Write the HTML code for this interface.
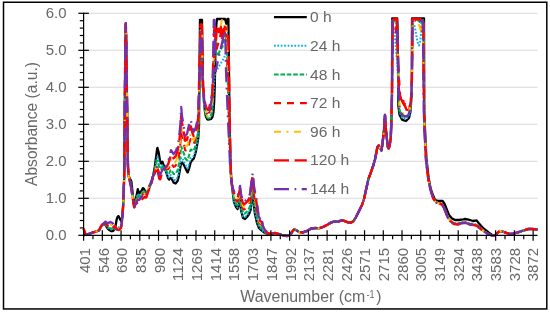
<!DOCTYPE html>
<html lang="en"><head><meta charset="utf-8"><title>Absorbance vs Wavenumber</title>
<style>html,body{margin:0;padding:0;background:#fff}body{width:550px;height:312px;overflow:hidden}svg{display:block}text{font-family:"Liberation Sans",sans-serif;fill:#686868}</style></head><body>
<svg width="550" height="312" viewBox="0 0 550 312">
<rect x="0" y="0" width="550" height="312" fill="#fff"/>
<line x1="83.6" y1="198.30" x2="537.5" y2="198.30" stroke="#d9d9d9" stroke-width="1.1"/>
<line x1="83.6" y1="161.30" x2="537.5" y2="161.30" stroke="#d9d9d9" stroke-width="1.1"/>
<line x1="83.6" y1="124.30" x2="537.5" y2="124.30" stroke="#d9d9d9" stroke-width="1.1"/>
<line x1="83.6" y1="87.30" x2="537.5" y2="87.30" stroke="#d9d9d9" stroke-width="1.1"/>
<line x1="83.6" y1="50.30" x2="537.5" y2="50.30" stroke="#d9d9d9" stroke-width="1.1"/>
<line x1="83.6" y1="13.30" x2="537.5" y2="13.30" stroke="#d9d9d9" stroke-width="1.1"/>
<g fill="none" stroke-linejoin="round" stroke-linecap="butt">
<path d="M83.6 235.0 L85.6 234.9 L87.0 234.8 L89.0 233.9 L91.0 233.2 L93.0 232.5 L95.0 231.8 L97.0 231.2 L99.0 230.5 L101.0 226.5 L102.0 225.0 L104.0 223.8 L104.4 223.6 L104.6 223.7 L106.6 227.0 L108.6 229.6 L110.6 230.9 L111.0 231.2 L113.0 231.0 L114.4 229.6 L115.4 226.8 L116.6 219.7 L117.6 216.9 L118.4 216.1 L118.6 216.2 L120.6 220.2 L121.2 221.3 L121.4 221.0 L122.2 217.0 L123.0 208.0 L123.6 195.0 L124.2 176.0 L125.4 40.0 L125.8 23.5 L126.2 40.0 L127.8 158.8 L128.0 166.8 L128.4 174.2 L128.6 176.0 L130.8 180.3 L131.4 181.5 L133.4 200.3 L134.2 207.2 L136.4 196.1 L137.8 189.2 L139.0 193.4 L139.2 193.6 L141.2 191.2 L142.8 188.2 L143.0 188.1 L144.2 189.2 L145.4 192.2 L145.6 192.4 L147.0 193.0 L149.2 188.1 L151.2 182.8 L152.8 177.7 L154.8 166.7 L156.8 151.3 L157.2 148.3 L157.4 147.9 L158.6 152.0 L160.0 160.6 L161.2 163.6 L162.4 161.7 L164.4 167.3 L166.4 172.7 L168.0 178.0 L169.2 179.6 L170.4 177.8 L170.6 177.8 L171.8 179.0 L173.6 182.6 L173.8 182.8 L175.6 183.5 L177.6 180.9 L178.8 176.4 L180.8 164.6 L181.0 163.6 L182.2 162.5 L182.4 162.6 L184.4 166.0 L186.4 170.3 L187.6 172.4 L187.8 172.3 L189.4 167.5 L190.6 162.4 L192.6 159.8 L193.8 158.5 L195.8 152.0 L198.0 139.8 L198.2 138.6 L199.0 126.0 L200.0 20.0 L202.0 20.0 L203.0 86.0 L204.0 102.0 L205.0 112.0 L206.0 117.0 L207.4 119.3 L207.6 119.5 L209.6 119.3 L211.0 119.0 L212.4 117.1 L213.4 112.5 L214.2 101.5 L214.8 85.0 L215.6 39.0 L216.4 24.1 L217.0 19.0 L219.2 19.0 L221.2 19.0 L223.2 19.0 L225.0 19.0 L226.4 23.7 L226.6 23.4 L227.2 19.6 L227.4 19.0 L228.4 19.0 L229.4 112.0 L230.6 165.0 L231.4 180.9 L233.6 199.2 L234.0 202.0 L236.0 207.0 L237.6 209.0 L239.6 201.6 L240.0 200.0 L241.0 210.0 L243.0 218.0 L245.0 219.0 L247.0 217.0 L249.0 214.0 L250.6 210.0 L252.8 190.0 L253.0 188.0 L254.0 206.0 L255.0 214.0 L257.0 223.0 L259.0 228.0 L261.2 230.2 L263.4 231.9 L265.6 233.2 L267.6 233.9 L269.8 234.0 L272.0 233.7 L274.0 233.2 L275.0 233.0 L277.2 233.6 L279.4 234.1 L281.6 234.9 L283.6 235.5 L285.8 235.8 L287.0 236.0 L289.0 235.3 L290.0 235.0 L292.2 231.8 L294.0 229.6 L296.0 230.0 L298.0 231.3 L299.0 232.0 L301.2 232.2 L303.0 232.4 L305.0 231.7 L307.2 230.9 L309.2 229.7 L311.0 228.6 L313.0 228.3 L315.2 228.0 L317.2 228.2 L319.0 228.4 L321.0 227.7 L323.2 226.9 L325.2 225.9 L327.4 224.8 L329.6 223.4 L331.6 222.4 L333.8 221.7 L336.0 221.6 L338.0 221.6 L340.2 220.9 L342.0 220.4 L344.0 220.8 L346.2 221.6 L348.0 222.4 L350.2 222.5 L351.0 222.6 L353.0 221.4 L353.6 221.0 L355.8 217.3 L357.8 213.4 L360.0 209.0 L362.0 205.0 L364.0 199.0 L366.2 189.0 L368.4 179.0 L370.6 173.1 L372.8 167.0 L375.0 159.5 L377.0 149.1 L377.6 146.7 L378.8 145.4 L380.8 149.3 L381.4 150.5 L382.4 144.4 L384.0 130.0 L385.0 115.0 L386.0 131.0 L387.8 146.7 L388.6 148.4 L388.8 148.3 L389.6 145.7 L390.8 137.7 L391.8 106.0 L392.0 90.0 L392.2 18.5 L394.4 18.5 L396.6 18.5 L397.2 18.5 L397.4 24.4 L398.0 60.0 L398.4 106.0 L399.6 115.0 L401.6 118.8 L402.0 119.6 L404.2 120.4 L406.0 121.0 L408.0 119.0 L409.0 118.0 L410.4 112.0 L411.8 91.7 L412.0 18.5 L414.2 18.5 L416.4 18.5 L418.6 18.5 L420.8 18.5 L423.0 18.5 L424.0 18.5 L424.2 112.9 L426.4 158.4 L428.6 177.9 L430.6 188.3 L432.8 194.8 L435.0 200.0 L437.2 200.6 L439.4 201.0 L441.6 201.0 L442.6 201.0 L444.6 204.0 L446.8 209.5 L449.0 215.0 L451.2 217.5 L452.0 218.4 L454.2 219.6 L455.0 220.0 L457.0 220.0 L459.2 220.0 L461.4 219.6 L463.4 219.3 L465.0 219.0 L467.2 219.4 L469.4 219.9 L471.4 220.5 L473.0 221.0 L475.2 220.6 L476.6 220.4 L478.8 223.2 L481.0 225.8 L483.2 228.0 L485.4 229.9 L487.4 231.5 L489.6 233.3 L491.8 234.7 L493.0 235.4 L495.0 235.4 L497.0 233.4 L499.2 231.6 L500.0 231.0 L502.2 231.6 L504.4 232.2 L506.6 233.0 L508.8 233.7 L511.0 233.9 L513.0 233.7 L515.2 233.2 L517.4 232.5 L519.4 231.8 L521.6 231.1 L523.8 230.5 L525.8 229.8 L528.0 229.0 L530.2 229.0 L532.2 229.0 L534.4 229.2 L536.6 229.5 L537.4 229.6" stroke="#000000" stroke-width="2.3"/>
<path d="M83.6 235.0 L85.6 234.9 L87.0 234.8 L89.0 233.9 L91.0 233.2 L93.0 232.5 L95.0 231.8 L97.0 231.2 L99.0 230.5 L101.0 226.5 L102.0 225.0 L104.0 223.6 L104.4 223.4 L104.6 223.4 L106.6 226.1 L107.6 227.6 L109.6 228.7 L111.0 229.4 L113.0 229.5 L114.4 228.8 L114.6 226.6 L115.6 227.1 L116.6 227.1 L117.0 227.4 L118.4 227.1 L119.0 227.4 L121.0 226.6 L122.0 220.4 L123.0 208.0 L123.6 195.0 L124.2 176.0 L125.4 40.0 L125.8 23.5 L126.2 40.0 L127.8 158.8 L128.0 166.8 L128.4 174.2 L128.6 176.2 L130.8 182.6 L131.4 185.1 L133.4 201.2 L134.2 207.2 L136.4 198.8 L137.8 193.8 L139.0 196.3 L139.2 196.4 L141.2 194.0 L142.8 191.4 L143.0 191.2 L144.2 191.4 L145.6 193.2 L146.2 193.5 L147.0 192.5 L149.2 187.1 L151.2 182.4 L153.2 175.7 L154.8 169.5 L156.8 158.4 L157.2 157.4 L157.4 157.5 L158.6 161.6 L159.2 164.6 L160.0 166.8 L161.2 167.6 L162.4 165.4 L164.2 167.8 L164.4 167.5 L166.4 172.0 L168.0 176.4 L169.2 177.4 L170.4 175.3 L170.6 175.2 L171.0 175.4 L171.8 176.2 L173.6 179.7 L173.8 179.9 L175.6 180.3 L177.6 177.3 L178.8 172.7 L180.8 159.7 L181.0 158.4 L181.2 157.8 L182.0 158.0 L182.2 158.0 L182.4 158.2 L184.4 162.4 L186.4 166.8 L187.6 168.3 L187.8 168.1 L190.0 160.6 L190.6 158.2 L192.6 156.7 L193.6 156.0 L193.8 155.8 L195.8 149.5 L198.0 137.4 L198.2 136.2 L198.4 133.8 L200.2 50.0 L200.8 40.6 L201.0 40.4 L201.6 48.6 L202.6 86.0 L204.0 103.0 L205.2 112.0 L206.4 116.2 L206.6 116.6 L208.0 118.0 L210.0 118.0 L211.4 116.1 L212.4 110.6 L213.2 100.0 L214.4 78.0 L215.4 72.5 L215.6 71.8 L217.6 68.7 L219.6 65.3 L221.6 62.0 L223.6 58.7 L225.6 54.0 L226.0 53.0 L227.2 55.8 L227.4 59.4 L229.6 140.0 L231.0 177.1 L231.2 178.0 L233.2 195.7 L234.0 201.0 L236.0 205.8 L237.6 207.6 L239.6 200.3 L240.0 198.6 L241.0 208.4 L243.0 216.3 L245.0 217.2 L247.2 214.9 L249.0 212.2 L250.6 207.9 L252.8 188.4 L253.0 186.5 L254.0 204.0 L255.0 211.8 L257.0 221.0 L259.0 226.9 L261.2 229.2 L263.4 231.4 L265.6 232.9 L267.6 233.7 L269.8 234.0 L272.0 233.7 L274.0 233.2 L275.0 233.0 L277.2 233.6 L279.4 234.1 L281.6 234.9 L283.6 235.5 L285.8 235.8 L287.0 236.0 L289.0 235.3 L290.0 235.0 L292.2 231.8 L294.0 229.6 L296.0 230.0 L298.0 231.3 L299.0 232.0 L301.2 232.2 L303.0 232.4 L305.0 231.7 L307.2 230.9 L309.2 229.7 L311.0 228.6 L313.0 228.3 L315.2 228.0 L317.2 228.2 L319.0 228.4 L321.0 227.7 L323.2 226.9 L325.2 225.9 L327.4 224.8 L329.6 223.4 L331.6 222.4 L333.8 221.7 L336.0 221.6 L338.0 221.6 L340.2 220.9 L342.0 220.4 L344.0 220.8 L346.2 221.6 L348.0 222.4 L350.2 222.5 L351.0 222.6 L353.0 221.4 L353.6 221.0 L355.8 217.3 L357.8 213.4 L360.0 209.0 L362.0 205.0 L364.0 199.0 L366.2 189.0 L368.4 179.0 L370.6 173.1 L372.8 167.0 L375.0 159.5 L377.0 149.1 L377.6 146.7 L378.8 145.4 L380.8 149.3 L381.4 150.5 L382.4 144.4 L384.0 130.0 L385.0 115.0 L386.0 131.0 L387.8 146.7 L388.6 148.4 L388.8 148.3 L389.6 145.7 L390.8 137.7 L391.8 106.0 L392.0 90.5 L392.4 24.3 L393.4 26.8 L394.8 36.0 L396.8 58.0 L397.2 62.0 L399.4 110.2 L399.6 112.2 L401.6 116.6 L402.0 117.5 L404.2 118.3 L406.0 119.0 L408.0 117.3 L409.0 116.5 L410.6 110.0 L411.4 98.0 L412.0 80.0 L412.4 24.0 L414.0 24.0 L415.2 29.0 L417.4 41.5 L419.0 45.5 L420.2 41.3 L422.4 23.5 L422.6 22.0 L423.4 24.0 L423.6 74.7 L423.8 27.7 L424.0 28.3 L424.2 113.9 L425.8 149.1 L426.0 158.0 L428.2 177.7 L430.4 189.0 L432.6 196.0 L434.6 200.1 L436.0 201.9 L438.2 202.7 L440.4 203.3 L442.0 203.6 L444.0 206.8 L446.2 212.1 L448.4 217.3 L450.6 220.4 L452.8 222.1 L454.0 222.9 L456.0 223.2 L458.0 223.4 L460.2 222.7 L462.4 222.1 L464.6 222.0 L466.6 222.3 L468.8 223.0 L471.0 223.6 L473.0 223.9 L475.2 224.2 L476.6 224.5 L478.8 226.4 L481.0 228.4 L483.2 230.2 L485.4 231.8 L487.4 233.1 L489.6 234.2 L491.8 235.2 L493.8 235.4 L495.0 235.4 L497.0 233.4 L499.2 231.6 L500.0 231.0 L502.2 231.6 L504.4 232.2 L506.6 233.0 L508.8 233.7 L511.0 233.9 L513.0 233.7 L515.2 233.2 L517.4 232.5 L519.4 231.8 L521.6 231.1 L523.8 230.5 L525.8 229.8 L528.0 229.0 L530.2 229.0 L532.2 229.0 L534.4 229.2 L536.6 229.5 L537.4 229.6" stroke="#00b0f0" stroke-width="2.0" stroke-dasharray="1.7 1.7"/>
<path d="M83.6 235.0 L85.6 234.9 L87.0 234.8 L89.0 233.9 L91.0 233.2 L93.0 232.5 L95.0 231.8 L97.0 231.2 L99.0 230.5 L101.0 226.5 L102.0 225.0 L104.0 223.6 L104.4 223.3 L104.6 223.3 L105.6 224.2 L107.6 227.1 L109.6 227.9 L111.6 228.6 L113.0 228.8 L114.4 228.4 L114.6 226.2 L116.6 228.1 L117.0 228.5 L118.6 228.5 L119.0 228.7 L121.0 227.3 L122.0 220.7 L123.0 208.0 L123.6 195.0 L124.2 176.0 L125.4 40.0 L125.8 23.5 L126.2 40.0 L127.8 158.8 L128.0 166.8 L128.4 174.2 L128.6 176.2 L130.8 183.4 L131.4 186.3 L133.4 201.6 L134.2 207.2 L136.4 199.7 L137.8 195.4 L139.0 197.3 L139.2 197.4 L141.2 194.9 L143.0 192.2 L144.2 192.2 L145.0 192.7 L145.6 193.4 L146.2 193.7 L147.0 192.3 L149.2 186.8 L151.2 182.3 L153.2 175.7 L154.8 170.5 L156.6 161.4 L156.8 160.8 L157.2 160.5 L157.4 160.7 L159.2 167.5 L160.0 168.9 L160.6 169.1 L161.2 168.9 L162.4 166.7 L164.2 168.1 L164.4 167.8 L166.4 170.7 L168.0 173.3 L169.2 173.1 L170.6 170.1 L171.0 169.8 L171.8 170.7 L173.6 174.0 L175.6 173.9 L177.6 170.2 L178.8 165.3 L180.4 153.8 L181.2 146.5 L182.0 148.7 L182.4 149.4 L184.4 155.2 L185.0 158.0 L187.0 160.2 L187.6 160.1 L187.8 159.8 L190.0 151.9 L190.6 149.8 L190.8 149.5 L192.4 150.4 L193.6 150.7 L193.8 150.4 L195.8 144.5 L198.0 132.6 L198.2 131.4 L198.4 128.8 L200.2 43.0 L200.8 31.0 L201.6 43.4 L202.6 86.0 L204.6 106.6 L205.4 112.3 L206.8 117.0 L208.4 118.4 L208.6 118.4 L210.2 117.1 L211.6 113.3 L212.6 104.0 L213.8 70.0 L214.6 56.0 L216.0 52.0 L218.0 56.0 L220.0 50.0 L222.0 47.6 L222.4 47.1 L224.4 38.4 L225.4 34.4 L225.6 34.8 L226.8 45.0 L228.8 115.3 L230.8 174.3 L231.0 179.1 L231.2 178.2 L233.2 194.3 L234.0 198.9 L236.0 203.4 L237.4 204.9 L237.6 204.9 L239.0 200.4 L240.0 195.8 L241.0 205.2 L243.0 212.8 L244.0 213.6 L245.0 213.6 L247.2 211.3 L249.0 208.6 L250.0 206.2 L250.6 203.8 L252.8 185.1 L253.0 183.5 L254.0 200.0 L255.0 207.3 L257.0 217.0 L258.6 223.7 L259.0 224.7 L261.2 227.2 L262.0 228.0 L263.0 230.0 L265.0 232.1 L267.2 233.3 L268.0 233.7 L270.2 233.9 L272.4 233.6 L274.6 233.1 L275.0 233.0 L277.2 233.6 L279.4 234.1 L281.6 234.9 L283.6 235.5 L285.8 235.8 L287.0 236.0 L289.0 235.3 L290.0 235.0 L292.2 231.8 L294.0 229.6 L296.0 230.0 L298.0 231.3 L299.0 232.0 L301.2 232.2 L303.0 232.4 L305.0 231.7 L307.2 230.9 L309.2 229.7 L311.0 228.6 L313.0 228.3 L315.2 228.0 L317.2 228.2 L319.0 228.4 L321.0 227.7 L323.2 226.9 L325.2 225.9 L327.4 224.8 L329.6 223.4 L331.6 222.4 L333.8 221.7 L336.0 221.6 L338.0 221.6 L340.2 220.9 L342.0 220.4 L344.0 220.8 L346.2 221.6 L348.0 222.4 L350.2 222.5 L351.0 222.6 L353.0 221.4 L353.6 221.0 L355.8 217.3 L357.8 213.4 L360.0 209.0 L362.0 205.0 L364.0 199.0 L366.2 189.0 L368.4 179.0 L370.6 173.1 L372.8 167.0 L375.0 159.5 L377.0 149.1 L377.6 146.7 L378.8 145.4 L380.8 149.3 L381.4 150.5 L382.4 144.4 L384.0 130.0 L385.0 115.0 L386.0 131.0 L387.8 146.7 L388.6 148.4 L388.8 148.3 L389.6 145.7 L390.8 137.7 L391.8 106.0 L392.0 91.6 L392.4 20.0 L394.0 19.5 L395.6 22.0 L396.8 30.0 L397.6 47.8 L398.4 90.0 L399.4 108.2 L399.6 110.2 L401.6 115.0 L402.0 116.0 L404.2 116.8 L406.0 117.5 L408.0 115.8 L409.0 115.0 L410.6 108.0 L411.4 97.0 L412.0 80.0 L412.4 20.0 L414.4 19.7 L416.0 19.5 L418.2 20.6 L419.0 21.0 L421.0 24.0 L423.2 20.2 L423.4 40.0 L423.6 80.0 L423.8 46.0 L424.0 48.0 L424.2 116.0 L425.8 150.6 L426.0 158.8 L428.2 178.0 L430.4 189.2 L432.6 196.2 L433.6 198.6 L435.8 201.8 L436.0 202.1 L438.2 202.9 L440.4 203.6 L442.0 204.0 L444.0 207.3 L446.2 212.7 L448.0 217.2 L450.2 220.3 L452.2 222.1 L454.0 223.3 L456.0 223.7 L458.0 223.9 L460.2 223.1 L462.4 222.5 L464.6 222.4 L466.0 222.4 L468.2 223.2 L470.4 224.0 L472.6 224.3 L474.6 224.5 L476.8 225.1 L479.0 227.0 L481.0 228.7 L483.2 230.5 L485.4 232.1 L487.4 233.3 L489.6 234.4 L491.8 235.2 L493.8 235.4 L495.0 235.4 L497.0 233.4 L499.2 231.6 L500.0 231.0 L502.2 231.6 L504.4 232.2 L506.6 233.0 L508.8 233.7 L511.0 233.9 L513.0 233.7 L515.2 233.2 L517.4 232.5 L519.4 231.8 L521.6 231.1 L523.8 230.5 L525.8 229.8 L528.0 229.0 L530.2 229.0 L532.2 229.0 L534.4 229.2 L536.6 229.5 L537.4 229.6" stroke="#00b050" stroke-width="2.1" stroke-dasharray="4.6 1.8"/>
<path d="M83.6 228.6 L85.0 233.0 L86.8 235.0 L88.8 234.0 L90.8 233.2 L92.8 232.6 L94.8 231.9 L96.8 231.2 L98.8 230.6 L99.0 230.5 L101.0 226.5 L102.0 225.0 L104.0 223.4 L104.6 223.0 L105.4 223.1 L107.4 225.6 L109.4 226.0 L110.6 226.0 L112.6 226.7 L114.4 227.4 L114.6 226.1 L116.6 228.5 L117.0 229.0 L119.0 229.3 L121.0 227.6 L122.0 220.8 L123.0 208.0 L123.6 195.0 L124.2 176.0 L125.4 40.0 L125.8 23.5 L126.2 40.0 L127.8 158.8 L128.0 166.8 L128.4 174.2 L128.6 176.4 L130.8 184.9 L132.8 198.4 L134.2 207.2 L136.4 201.5 L137.8 198.5 L139.0 199.3 L139.2 199.2 L141.2 196.7 L143.0 194.3 L144.8 193.5 L146.2 194.2 L148.4 187.8 L150.4 183.9 L152.0 179.9 L152.8 176.6 L154.6 172.9 L156.6 165.7 L156.8 165.6 L158.8 171.8 L159.2 173.3 L160.4 172.8 L162.4 169.2 L164.2 168.7 L164.4 168.1 L166.4 169.0 L168.0 169.3 L169.2 167.7 L171.0 162.8 L173.2 166.2 L173.6 166.9 L175.4 166.0 L176.6 164.0 L177.8 160.5 L179.0 154.9 L180.4 143.1 L181.2 132.4 L182.0 137.0 L184.0 144.8 L184.4 146.2 L185.0 150.1 L187.0 150.8 L187.6 149.9 L189.6 142.1 L190.6 139.3 L190.8 139.0 L192.4 142.4 L193.6 144.0 L195.6 139.1 L197.6 129.0 L198.2 125.4 L198.4 122.5 L200.0 45.0 L200.6 28.7 L200.8 26.0 L201.8 26.0 L203.0 81.7 L203.2 87.2 L205.0 105.0 L206.4 111.0 L208.0 113.5 L209.8 112.0 L211.2 108.0 L212.4 100.0 L214.2 58.0 L216.2 51.2 L218.4 42.8 L220.0 38.0 L221.0 30.0 L222.0 36.0 L223.0 28.0 L224.4 33.6 L224.6 33.3 L225.4 27.7 L225.6 28.0 L226.8 40.0 L228.8 113.3 L230.8 177.0 L231.0 175.5 L231.4 181.0 L233.6 194.4 L234.0 196.2 L236.0 200.3 L237.4 201.7 L237.6 201.6 L239.0 197.4 L240.0 192.3 L241.0 201.2 L243.0 208.4 L244.0 209.4 L245.0 209.1 L247.2 206.9 L249.0 204.1 L250.0 201.9 L250.6 198.6 L252.0 185.4 L253.0 179.8 L253.4 187.9 L254.0 195.0 L255.0 201.7 L257.0 212.1 L258.6 221.0 L260.0 223.5 L262.0 225.5 L263.0 228.6 L265.0 231.4 L267.2 232.9 L268.0 233.5 L270.2 233.9 L271.0 234.0 L273.0 233.5 L275.0 233.0 L277.2 233.6 L279.4 234.1 L281.6 234.9 L283.6 235.5 L285.8 235.8 L287.0 236.0 L289.0 235.3 L290.0 235.0 L292.2 231.8 L294.0 229.6 L296.0 230.0 L298.0 231.3 L299.0 232.0 L301.2 232.2 L303.0 232.4 L305.0 231.7 L307.2 230.9 L309.2 229.7 L311.0 228.6 L313.0 228.3 L315.2 228.0 L317.2 228.2 L319.0 228.4 L321.0 227.7 L323.2 226.9 L325.2 225.9 L327.4 224.8 L329.6 223.4 L331.6 222.4 L333.8 221.7 L336.0 221.6 L338.0 221.6 L340.2 220.9 L342.0 220.4 L344.0 220.8 L346.2 221.6 L348.0 222.4 L350.2 222.5 L351.0 222.6 L353.0 221.4 L353.6 221.0 L355.8 217.3 L357.8 213.4 L360.0 209.0 L362.0 205.0 L364.0 199.0 L366.2 189.0 L368.4 179.0 L370.6 173.1 L372.8 167.0 L375.0 159.5 L377.0 149.1 L377.6 146.7 L378.8 145.4 L380.8 149.3 L381.4 150.5 L382.4 144.4 L384.0 130.0 L385.0 115.0 L386.0 131.0 L387.8 146.7 L388.6 148.4 L388.8 148.3 L389.6 145.7 L390.8 137.7 L391.8 106.0 L392.0 92.9 L392.4 20.0 L394.0 20.0 L395.2 23.7 L396.6 37.5 L398.8 74.0 L400.2 96.0 L402.0 100.0 L403.0 98.0 L404.0 105.0 L405.4 104.1 L405.6 104.4 L407.0 110.0 L409.0 110.0 L410.6 102.0 L411.6 90.0 L412.0 74.0 L412.6 29.5 L414.0 22.0 L416.0 19.0 L418.2 19.0 L419.0 19.0 L421.2 29.6 L421.4 30.5 L421.6 30.6 L422.6 27.0 L423.2 21.9 L423.4 40.8 L423.6 80.3 L423.8 68.8 L424.0 72.5 L424.2 118.6 L425.8 152.6 L426.0 159.2 L428.2 178.2 L430.4 189.3 L432.6 196.3 L433.6 198.8 L435.8 201.9 L436.0 202.2 L438.2 203.0 L440.4 203.7 L442.0 204.2 L444.0 207.5 L446.2 213.0 L448.0 217.5 L450.2 220.6 L452.2 222.3 L454.0 223.5 L456.0 223.9 L458.0 224.1 L460.2 223.3 L462.0 222.6 L464.0 222.6 L466.0 222.6 L468.2 223.5 L470.4 224.2 L472.6 224.5 L474.6 224.8 L476.8 225.4 L479.0 227.2 L481.0 228.9 L483.2 230.7 L485.4 232.2 L487.4 233.4 L489.6 234.4 L491.8 235.3 L493.8 235.4 L495.0 235.4 L497.0 233.4 L499.2 231.6 L500.0 231.0 L502.2 231.6 L504.4 232.2 L506.6 233.0 L508.8 233.7 L511.0 233.9 L513.0 233.7 L515.2 233.2 L517.4 232.5 L519.4 231.8 L521.6 231.1 L523.8 230.5 L525.8 229.8 L528.0 229.0 L530.2 229.0 L532.2 229.0 L534.4 229.2 L536.6 229.5 L537.4 229.6" stroke="#ff0000" stroke-width="2.1" stroke-dasharray="7 6"/>
<path d="M83.6 235.0 L85.6 234.9 L87.0 234.8 L89.0 233.9 L91.0 233.2 L93.0 232.5 L95.0 231.8 L97.0 231.2 L99.0 230.5 L101.0 226.5 L102.0 225.0 L104.0 223.2 L104.6 222.8 L105.4 222.6 L107.4 224.9 L107.6 225.0 L109.6 224.8 L110.6 224.7 L112.6 225.5 L114.4 226.8 L114.6 226.1 L116.6 228.5 L117.0 229.0 L119.0 229.3 L121.0 227.6 L122.0 220.8 L123.0 208.0 L123.6 195.0 L124.2 176.0 L125.4 40.0 L125.8 23.5 L126.2 40.0 L127.8 158.8 L128.0 166.8 L128.4 174.2 L128.6 176.4 L130.8 185.1 L132.8 198.6 L134.2 207.2 L136.4 201.8 L137.8 199.0 L139.0 199.6 L139.2 199.6 L141.2 197.0 L143.0 194.7 L144.8 193.6 L146.2 194.3 L148.4 187.7 L150.4 183.8 L151.8 180.6 L152.8 176.6 L154.6 173.2 L156.6 166.4 L156.8 166.4 L158.8 172.9 L159.2 174.2 L160.4 173.4 L162.4 169.6 L164.2 168.8 L164.4 168.3 L166.4 168.1 L168.0 167.2 L169.2 164.8 L171.0 159.2 L173.2 162.5 L173.6 163.2 L175.4 161.9 L176.6 159.7 L177.8 155.8 L179.0 150.2 L180.4 137.6 L181.2 125.1 L182.0 130.9 L184.0 139.9 L184.4 141.5 L185.0 146.0 L187.0 146.0 L187.8 143.9 L189.6 136.3 L190.6 133.8 L190.8 133.5 L192.4 138.3 L193.6 140.5 L195.6 135.9 L197.6 125.9 L198.2 122.3 L198.4 119.2 L200.0 45.0 L200.6 30.4 L200.8 28.0 L201.6 28.0 L201.8 32.5 L203.0 82.3 L204.0 100.0 L205.2 110.0 L206.6 115.0 L208.2 117.0 L210.0 116.0 L211.4 111.3 L212.6 100.0 L213.2 74.0 L214.0 52.0 L214.8 44.0 L216.8 37.6 L218.8 31.6 L220.8 24.8 L222.0 20.0 L223.0 26.0 L224.4 26.0 L224.6 25.6 L225.4 22.4 L225.6 22.9 L227.0 36.0 L227.8 55.0 L229.6 141.0 L230.8 177.0 L231.0 175.9 L231.6 182.5 L233.0 190.9 L234.0 194.9 L235.0 197.4 L237.0 199.7 L237.4 200.1 L237.6 199.8 L239.0 195.8 L240.0 190.5 L241.0 199.1 L242.6 205.2 L243.0 206.1 L244.0 207.3 L245.0 206.8 L247.2 204.5 L248.0 203.6 L250.0 199.6 L251.0 192.4 L252.0 182.7 L253.0 177.8 L253.4 186.2 L254.6 196.7 L256.8 208.2 L258.6 219.5 L260.0 222.2 L262.0 224.2 L263.0 227.8 L265.0 231.0 L267.2 232.7 L268.0 233.3 L270.2 233.8 L271.0 234.0 L273.0 233.5 L275.0 233.0 L277.2 233.6 L279.4 234.1 L281.6 234.9 L283.6 235.5 L285.8 235.8 L287.0 236.0 L289.0 235.3 L290.0 235.0 L292.2 231.8 L294.0 229.6 L296.0 230.0 L298.0 231.3 L299.0 232.0 L301.2 232.2 L303.0 232.4 L305.0 231.7 L307.2 230.9 L309.2 229.7 L311.0 228.6 L313.0 228.3 L315.2 228.0 L317.2 228.2 L319.0 228.4 L321.0 227.7 L323.2 226.9 L325.2 225.9 L327.4 224.8 L329.6 223.4 L331.6 222.4 L333.8 221.7 L336.0 221.6 L338.0 221.6 L340.2 220.9 L342.0 220.4 L344.0 220.8 L346.2 221.6 L348.0 222.4 L350.2 222.5 L351.0 222.6 L353.0 221.4 L353.6 221.0 L355.8 217.3 L357.8 213.4 L360.0 209.0 L362.0 205.0 L364.0 199.0 L366.2 189.0 L368.4 179.0 L370.6 173.1 L372.8 167.0 L375.0 159.5 L377.0 149.1 L377.6 146.7 L378.8 145.4 L380.8 149.3 L381.4 150.5 L382.4 144.4 L384.0 130.0 L385.0 115.0 L386.0 131.0 L387.8 146.7 L388.6 148.4 L388.8 148.3 L389.6 145.7 L390.8 137.7 L391.8 106.0 L392.0 93.6 L392.4 20.0 L394.6 20.0 L396.0 20.0 L397.2 30.0 L398.0 60.0 L398.6 92.0 L399.6 108.0 L401.6 112.2 L402.0 113.0 L404.2 113.8 L406.0 114.5 L408.0 113.0 L408.6 112.6 L410.4 106.4 L411.4 95.2 L412.0 74.0 L412.4 22.0 L414.4 19.6 L414.6 19.6 L416.8 21.8 L419.0 25.2 L419.6 26.4 L421.4 32.7 L421.6 32.5 L422.6 28.0 L423.2 22.0 L423.4 40.8 L423.6 80.3 L423.8 80.7 L424.0 85.3 L424.2 120.0 L425.8 153.5 L426.0 159.6 L428.2 178.4 L430.4 189.4 L432.6 196.4 L433.6 198.9 L435.8 202.0 L436.0 202.3 L438.2 203.2 L440.4 203.9 L442.0 204.3 L444.0 207.8 L446.2 213.2 L448.0 217.7 L450.2 220.8 L452.2 222.5 L454.0 223.8 L456.0 224.1 L458.0 224.4 L460.2 223.5 L462.0 222.8 L464.0 222.8 L466.0 222.8 L468.2 223.7 L470.4 224.4 L472.6 224.7 L474.6 225.0 L476.8 225.7 L479.0 227.4 L481.0 229.0 L483.2 230.8 L485.4 232.3 L487.4 233.5 L489.6 234.5 L491.8 235.3 L493.8 235.4 L495.0 235.4 L497.0 233.4 L499.2 231.6 L500.0 231.0 L502.2 231.6 L504.4 232.2 L506.6 233.0 L508.8 233.7 L511.0 233.9 L513.0 233.7 L515.2 233.2 L517.4 232.5 L519.4 231.8 L521.6 231.1 L523.8 230.5 L525.8 229.8 L528.0 229.0 L530.2 229.0 L532.2 229.0 L534.4 229.2 L536.6 229.5 L537.4 229.6" stroke="#ffc000" stroke-width="2.0" stroke-dasharray="7 5.5 2 5.5"/>
<path d="M83.6 228.6 L85.0 233.0 L86.8 235.0 L88.8 234.0 L90.8 233.2 L92.8 232.6 L94.8 231.9 L96.8 231.2 L98.8 230.6 L99.0 230.5 L101.0 226.5 L102.0 225.0 L104.0 223.4 L104.6 223.0 L105.4 223.1 L107.4 225.6 L109.4 226.0 L110.6 226.0 L112.6 226.7 L114.4 227.4 L114.6 225.9 L116.6 229.0 L117.0 229.6 L119.0 230.0 L121.0 228.0 L122.0 221.0 L123.0 208.0 L123.6 195.0 L124.2 176.0 L125.4 40.0 L125.8 23.5 L126.2 40.0 L127.8 158.8 L128.0 166.8 L128.6 176.4 L130.8 185.4 L132.8 198.8 L134.2 207.2 L135.8 203.4 L136.2 203.1 L137.4 203.0 L137.8 202.6 L139.0 203.2 L139.2 203.1 L141.2 200.5 L143.0 198.2 L144.8 197.0 L146.2 197.6 L148.4 190.8 L150.0 187.9 L151.8 181.7 L152.8 176.5 L154.6 173.5 L156.6 167.2 L156.8 167.2 L158.8 176.2 L159.2 178.6 L159.8 179.3 L160.0 179.3 L160.4 178.9 L162.4 170.8 L164.2 168.9 L166.2 167.2 L168.2 164.2 L170.2 157.4 L171.0 154.4 L173.2 157.6 L173.6 158.3 L175.4 156.5 L176.4 154.6 L178.4 146.9 L179.0 144.0 L180.4 130.4 L181.2 115.5 L182.0 123.0 L184.0 133.6 L184.4 135.4 L185.0 140.7 L187.0 139.6 L189.2 130.6 L189.6 128.7 L190.8 126.3 L192.4 132.8 L193.6 136.0 L195.6 131.7 L197.0 125.6 L198.2 118.2 L200.4 30.4 L200.6 24.5 L201.8 24.5 L203.0 82.3 L203.2 87.1 L204.0 96.0 L205.0 103.0 L206.4 108.0 L208.0 110.0 L209.4 107.0 L211.6 96.6 L212.2 94.0 L214.2 30.0 L215.0 26.0 L216.0 40.0 L217.0 26.0 L219.0 32.0 L221.0 27.0 L222.0 38.0 L223.6 29.8 L225.0 27.0 L227.0 30.0 L228.4 40.0 L229.0 70.0 L230.0 140.0 L231.0 177.0 L231.6 182.5 L233.0 189.9 L235.0 195.6 L237.0 197.6 L237.4 197.9 L239.0 193.8 L240.0 188.1 L241.0 196.4 L242.6 202.5 L244.0 204.5 L246.0 202.7 L248.0 200.6 L250.0 196.6 L252.0 179.1 L253.0 175.3 L253.4 184.0 L254.6 193.1 L256.0 199.4 L258.0 213.2 L258.6 217.7 L260.0 220.5 L262.0 222.5" stroke="#ff0000" stroke-width="2.4" stroke-dasharray="15 5.6" stroke-dashoffset="0.25"/>
<path d="M262.0 222.5 L263.0 226.9 L265.0 230.5 L267.2 232.4 L268.0 233.2 L270.2 233.8 L271.0 234.0 L273.0 233.5 L275.0 233.0 L277.2 233.6 L279.4 234.1 L281.6 234.9 L283.6 235.5 L285.8 235.8 L287.0 236.0 L289.0 235.3 L290.0 235.0 L292.2 231.8 L294.0 229.6 L296.0 230.0 L298.0 231.3 L299.0 232.0 L301.2 232.2 L303.0 232.4 L305.0 231.7 L307.2 230.9 L309.2 229.7 L311.0 228.6 L313.0 228.3 L315.2 228.0 L317.2 228.2 L319.0 228.4 L321.0 227.7 L323.2 226.9 L325.2 225.9 L327.4 224.8 L329.6 223.4 L331.6 222.4 L333.8 221.7 L336.0 221.6 L338.0 221.6 L340.2 220.9 L342.0 220.4 L344.0 220.8 L346.2 221.6 L348.0 222.4 L350.2 222.5 L351.0 222.6 L353.0 221.4 L353.6 221.0 L355.8 217.3 L357.8 213.4 L360.0 209.0 L362.0 205.0 L364.0 199.0 L366.2 189.0 L368.4 179.0 L370.6 173.1 L372.8 167.0 L375.0 159.5 L377.0 149.1 L377.6 146.7 L378.8 145.4 L380.8 149.3 L381.4 150.5 L382.4 144.4 L384.0 130.0 L385.0 115.0 L386.0 131.0 L387.8 146.7 L388.6 148.4 L388.8 148.3 L389.6 145.7 L390.8 137.7 L391.8 106.0 L392.0 94.5 L392.4 19.0" stroke="#ff0000" stroke-width="2.4" stroke-dasharray="15 5.6" stroke-dashoffset="13.00"/>
<path d="M392.2 54.5 L392.4 19.0 L394.6 19.0 L396.8 19.0 L397.6 40.3 L398.8 88.0 L399.6 96.0 L401.6 100.2 L403.8 104.2 L405.0 106.0 L407.0 111.0 L409.0 110.0 L410.6 103.0 L411.6 91.0 L412.0 74.2 L412.4 19.0 L414.4 19.0 L416.6 19.0 L418.6 19.0 L420.8 19.0 L423.0 19.0 L423.4 19.0 L423.6 73.0 L423.8 96.3 L424.0 101.9 L424.2 121.8 L426.0 160.0 L428.2 178.6 L430.4 189.5 L432.6 196.5 L433.6 199.0 L435.8 202.1 L436.0 202.4 L438.2 203.3 L440.4 204.0 L442.0 204.5 L444.0 208.0 L446.2 213.5 L448.0 218.0 L450.2 221.0 L452.2 222.7 L454.0 224.0 L456.0 224.3 L458.0 224.6 L460.2 223.7 L462.0 223.0 L464.0 223.0 L466.0 223.0 L468.2 223.9 L470.4 224.6 L472.6 224.9 L474.6 225.2 L476.8 225.9 L479.0 227.6 L481.0 229.2 L483.2 231.0 L485.4 232.4 L487.4 233.6 L489.6 234.6 L491.8 235.3 L493.8 235.4 L495.0 235.4 L497.0 233.4 L499.2 231.6 L500.0 231.0 L502.2 231.6 L504.4 232.2 L506.6 233.0 L508.8 233.7 L511.0 233.9 L513.0 233.7 L515.2 233.2 L517.4 232.5 L519.4 231.8 L521.6 231.1 L523.8 230.5 L525.8 229.8 L528.0 229.0 L530.2 229.0 L532.2 229.0 L534.4 229.2 L536.6 229.5 L537.4 229.6" stroke="#ff0000" stroke-width="2.4" stroke-dasharray="15 5.6" stroke-dashoffset="5.50"/>
<path d="M83.6 235.0 L85.6 234.9 L87.0 234.8 L89.0 233.9 L91.0 233.2 L93.0 232.5 L95.0 231.8 L97.0 231.2 L99.0 230.5 L101.0 226.5 L103.0 224.0 L105.0 222.0 L105.4 221.6 L105.6 221.6 L107.4 223.4 L107.6 223.4 L109.6 222.4 L110.4 222.0 L112.4 223.0 L114.4 225.6 L116.4 228.7 L117.0 229.6 L119.0 230.0 L121.0 228.0 L122.0 221.0 L123.0 208.0 L123.6 195.0 L124.2 176.0 L125.4 40.0 L125.8 23.5 L126.2 40.0 L127.8 158.8 L128.0 166.8 L128.6 176.4 L130.8 185.4 L132.8 198.8 L134.2 207.2 L136.4 202.1 L137.8 199.5 L139.0 200.0 L139.2 199.9 L141.2 197.3 L143.0 195.0 L144.8 193.8 L146.2 194.4 L148.4 187.6 L150.4 183.8 L151.8 180.5 L152.8 176.5 L154.6 173.5 L156.6 167.1 L156.8 167.1 L158.8 173.9 L159.2 175.2 L160.4 174.0 L162.4 170.0 L164.4 168.8 L166.4 166.0 L168.2 161.7 L170.2 153.8 L171.0 150.2 L173.2 153.4 L173.6 154.0 L175.4 151.8 L176.4 149.7 L178.4 141.4 L179.0 138.5 L180.4 124.0 L181.2 107.0 L182.0 116.0 L184.0 128.0 L184.4 130.0 L185.0 136.0 L187.0 134.0 L189.2 124.0 L189.6 122.0 L190.8 120.0 L192.4 128.0 L193.6 132.0 L195.6 128.0 L197.0 122.0 L198.2 114.6 L199.4 82.0 L200.4 36.7 L200.6 32.0 L201.4 32.0 L201.6 36.8 L202.4 72.7 L203.0 87.1 L205.0 107.0 L206.4 113.0 L208.0 115.0 L209.4 112.0 L211.6 100.0 L212.4 96.0 L213.0 80.0 L213.8 20.0 L214.4 20.0 L214.6 26.0 L215.4 67.6 L215.6 71.4 L217.6 62.1 L219.6 53.4 L221.6 44.9 L223.0 39.0 L224.4 30.6 L224.6 31.0 L225.4 39.0 L226.0 70.0 L228.0 120.0 L230.0 163.3 L230.6 173.0 L231.6 182.5 L233.0 189.0 L235.0 194.0 L237.0 195.7 L237.4 196.0 L239.0 192.0 L240.0 186.0 L241.0 194.0 L242.6 200.0 L244.0 202.0 L246.0 200.0 L248.0 198.0 L250.0 194.0 L252.0 176.0 L253.0 173.0 L253.4 182.0 L254.6 190.0 L256.0 196.0 L258.0 211.0 L258.6 216.0 L260.0 219.0 L262.0 221.0" stroke="#7030b0" stroke-width="2.3" stroke-dasharray="15 5.6 1.7 5.4" stroke-dashoffset="5.50"/>
<path d="M262.0 221.0 L263.0 226.0 L265.0 230.0 L267.2 232.2 L268.0 233.0 L270.2 233.7 L271.0 234.0 L273.0 233.5 L275.0 233.0 L277.2 233.6 L279.4 234.1 L281.6 234.9 L283.6 235.5 L285.8 235.8 L287.0 236.0 L289.0 235.3 L290.0 235.0 L292.2 231.8 L294.0 229.6 L296.0 230.0 L298.0 231.3 L299.0 232.0 L301.2 232.2 L303.0 232.4 L305.0 231.7 L307.2 230.9 L309.2 229.7 L311.0 228.6 L313.0 228.3 L315.2 228.0 L317.2 228.2 L319.0 228.4 L321.0 227.7 L323.2 226.9 L325.2 225.9 L327.4 224.8 L329.6 223.4 L331.6 222.4 L333.8 221.7 L336.0 221.6 L338.0 221.6 L340.2 220.9 L342.0 220.4 L344.0 220.8 L346.2 221.6 L348.0 222.4 L350.2 222.5 L351.0 222.6 L353.0 221.4 L353.6 221.0 L355.8 217.3 L357.8 213.4 L360.0 209.0 L362.0 205.0 L364.0 199.0 L366.2 189.0 L368.4 179.0 L370.6 173.1 L372.8 167.0 L375.0 159.5 L377.0 149.1 L377.6 146.7 L378.8 145.4 L380.8 149.3 L381.4 150.5 L382.4 144.4 L384.0 130.0 L385.0 115.0 L386.0 131.0 L387.8 146.7 L388.6 148.4 L388.8 148.3 L389.6 145.7 L390.8 137.7 L391.8 106.0 L392.0 95.3 L392.4 21.0" stroke="#7030b0" stroke-width="2.3" stroke-dasharray="15 5.6 1.7 5.4" stroke-dashoffset="2.50"/>
<path d="M392.2 60.0 L392.4 21.0 L394.6 21.0 L396.8 21.0 L397.0 21.0 L397.6 40.0 L398.8 96.6 L399.4 106.4 L399.6 108.3 L401.0 113.0 L403.0 115.5 L405.2 116.2 L406.0 116.5 L408.0 115.3 L408.4 115.1 L410.4 108.3 L411.4 96.3 L412.0 70.0 L412.4 21.0 L414.4 21.0 L416.6 21.0 L418.6 21.0 L420.8 21.0 L423.0 21.0 L423.2 21.0 L423.6 96.7 L423.8 110.0 L424.4 130.0 L426.0 160.0 L428.2 178.6 L430.4 189.5 L432.6 196.5 L433.6 199.0 L435.8 202.1 L436.0 202.4 L438.2 203.3 L440.4 204.0 L442.0 204.5 L444.0 208.0 L446.2 213.5 L448.0 218.0 L450.2 221.0 L452.2 222.7 L454.0 224.0 L456.0 224.3 L458.0 224.6 L460.2 223.7 L462.0 223.0 L464.0 223.0 L466.0 223.0 L468.2 223.9 L470.4 224.6 L472.6 224.9 L474.6 225.2 L476.8 225.9 L479.0 227.6 L481.0 229.2 L483.2 231.0 L485.4 232.4 L487.4 233.6 L489.6 234.6 L491.8 235.3 L493.8 235.4 L495.0 235.4 L497.0 233.4 L499.2 231.6 L500.0 231.0 L502.2 231.6 L504.4 232.2 L506.6 233.0 L508.8 233.7 L511.0 233.9 L513.0 233.7 L515.2 233.2 L517.4 232.5 L519.4 231.8 L521.6 231.1 L523.8 230.5 L525.8 229.8 L528.0 229.0 L530.2 229.0 L532.2 229.0 L534.4 229.2 L536.6 229.5 L537.4 229.6" stroke="#7030b0" stroke-width="2.3" stroke-dasharray="15 5.6 1.7 5.4" stroke-dashoffset="3.00"/>
</g>
<g stroke="#000" stroke-width="1.2">
<line x1="83.6" y1="12.8" x2="83.6" y2="235.8"/>
<line x1="83.1" y1="235.3" x2="537.5" y2="235.3"/>
<line x1="78.3" y1="235.30" x2="88.9" y2="235.30"/>
<line x1="79.8" y1="227.90" x2="83.6" y2="227.90"/>
<line x1="79.8" y1="220.50" x2="83.6" y2="220.50"/>
<line x1="79.8" y1="213.10" x2="83.6" y2="213.10"/>
<line x1="79.8" y1="205.70" x2="83.6" y2="205.70"/>
<line x1="78.3" y1="198.30" x2="88.9" y2="198.30"/>
<line x1="79.8" y1="190.90" x2="83.6" y2="190.90"/>
<line x1="79.8" y1="183.50" x2="83.6" y2="183.50"/>
<line x1="79.8" y1="176.10" x2="83.6" y2="176.10"/>
<line x1="79.8" y1="168.70" x2="83.6" y2="168.70"/>
<line x1="78.3" y1="161.30" x2="88.9" y2="161.30"/>
<line x1="79.8" y1="153.90" x2="83.6" y2="153.90"/>
<line x1="79.8" y1="146.50" x2="83.6" y2="146.50"/>
<line x1="79.8" y1="139.10" x2="83.6" y2="139.10"/>
<line x1="79.8" y1="131.70" x2="83.6" y2="131.70"/>
<line x1="78.3" y1="124.30" x2="88.9" y2="124.30"/>
<line x1="79.8" y1="116.90" x2="83.6" y2="116.90"/>
<line x1="79.8" y1="109.50" x2="83.6" y2="109.50"/>
<line x1="79.8" y1="102.10" x2="83.6" y2="102.10"/>
<line x1="79.8" y1="94.70" x2="83.6" y2="94.70"/>
<line x1="78.3" y1="87.30" x2="88.9" y2="87.30"/>
<line x1="79.8" y1="79.90" x2="83.6" y2="79.90"/>
<line x1="79.8" y1="72.50" x2="83.6" y2="72.50"/>
<line x1="79.8" y1="65.10" x2="83.6" y2="65.10"/>
<line x1="79.8" y1="57.70" x2="83.6" y2="57.70"/>
<line x1="78.3" y1="50.30" x2="88.9" y2="50.30"/>
<line x1="79.8" y1="42.90" x2="83.6" y2="42.90"/>
<line x1="79.8" y1="35.50" x2="83.6" y2="35.50"/>
<line x1="79.8" y1="28.10" x2="83.6" y2="28.10"/>
<line x1="79.8" y1="20.70" x2="83.6" y2="20.70"/>
<line x1="78.3" y1="13.30" x2="88.9" y2="13.30"/>
<line x1="83.60" y1="230.2" x2="83.60" y2="240.7"/>
<line x1="92.96" y1="235.3" x2="92.96" y2="239.3"/>
<line x1="102.33" y1="230.2" x2="102.33" y2="240.7"/>
<line x1="111.69" y1="235.3" x2="111.69" y2="239.3"/>
<line x1="121.06" y1="230.2" x2="121.06" y2="240.7"/>
<line x1="130.43" y1="235.3" x2="130.43" y2="239.3"/>
<line x1="139.79" y1="230.2" x2="139.79" y2="240.7"/>
<line x1="149.16" y1="235.3" x2="149.16" y2="239.3"/>
<line x1="158.52" y1="230.2" x2="158.52" y2="240.7"/>
<line x1="167.88" y1="235.3" x2="167.88" y2="239.3"/>
<line x1="177.25" y1="230.2" x2="177.25" y2="240.7"/>
<line x1="186.62" y1="235.3" x2="186.62" y2="239.3"/>
<line x1="195.98" y1="230.2" x2="195.98" y2="240.7"/>
<line x1="205.34" y1="235.3" x2="205.34" y2="239.3"/>
<line x1="214.71" y1="230.2" x2="214.71" y2="240.7"/>
<line x1="224.07" y1="235.3" x2="224.07" y2="239.3"/>
<line x1="233.44" y1="230.2" x2="233.44" y2="240.7"/>
<line x1="242.81" y1="235.3" x2="242.81" y2="239.3"/>
<line x1="252.17" y1="230.2" x2="252.17" y2="240.7"/>
<line x1="261.53" y1="235.3" x2="261.53" y2="239.3"/>
<line x1="270.90" y1="230.2" x2="270.90" y2="240.7"/>
<line x1="280.26" y1="235.3" x2="280.26" y2="239.3"/>
<line x1="289.63" y1="230.2" x2="289.63" y2="240.7"/>
<line x1="299.00" y1="235.3" x2="299.00" y2="239.3"/>
<line x1="308.36" y1="230.2" x2="308.36" y2="240.7"/>
<line x1="317.73" y1="235.3" x2="317.73" y2="239.3"/>
<line x1="327.09" y1="230.2" x2="327.09" y2="240.7"/>
<line x1="336.46" y1="235.3" x2="336.46" y2="239.3"/>
<line x1="345.82" y1="230.2" x2="345.82" y2="240.7"/>
<line x1="355.18" y1="235.3" x2="355.18" y2="239.3"/>
<line x1="364.55" y1="230.2" x2="364.55" y2="240.7"/>
<line x1="373.91" y1="235.3" x2="373.91" y2="239.3"/>
<line x1="383.28" y1="230.2" x2="383.28" y2="240.7"/>
<line x1="392.64" y1="235.3" x2="392.64" y2="239.3"/>
<line x1="402.01" y1="230.2" x2="402.01" y2="240.7"/>
<line x1="411.38" y1="235.3" x2="411.38" y2="239.3"/>
<line x1="420.74" y1="230.2" x2="420.74" y2="240.7"/>
<line x1="430.11" y1="235.3" x2="430.11" y2="239.3"/>
<line x1="439.47" y1="230.2" x2="439.47" y2="240.7"/>
<line x1="448.84" y1="235.3" x2="448.84" y2="239.3"/>
<line x1="458.20" y1="230.2" x2="458.20" y2="240.7"/>
<line x1="467.57" y1="235.3" x2="467.57" y2="239.3"/>
<line x1="476.93" y1="230.2" x2="476.93" y2="240.7"/>
<line x1="486.29" y1="235.3" x2="486.29" y2="239.3"/>
<line x1="495.66" y1="230.2" x2="495.66" y2="240.7"/>
<line x1="505.02" y1="235.3" x2="505.02" y2="239.3"/>
<line x1="514.39" y1="230.2" x2="514.39" y2="240.7"/>
<line x1="523.75" y1="235.3" x2="523.75" y2="239.3"/>
<line x1="533.12" y1="230.2" x2="533.12" y2="240.7"/>
</g>
<text x="66.6" y="240.4" font-size="14.8" text-anchor="end" textLength="20.8" lengthAdjust="spacingAndGlyphs">0.0</text>
<text x="66.6" y="203.4" font-size="14.8" text-anchor="end" textLength="20.8" lengthAdjust="spacingAndGlyphs">1.0</text>
<text x="66.6" y="166.4" font-size="14.8" text-anchor="end" textLength="20.8" lengthAdjust="spacingAndGlyphs">2.0</text>
<text x="66.6" y="129.4" font-size="14.8" text-anchor="end" textLength="20.8" lengthAdjust="spacingAndGlyphs">3.0</text>
<text x="66.6" y="92.4" font-size="14.8" text-anchor="end" textLength="20.8" lengthAdjust="spacingAndGlyphs">4.0</text>
<text x="66.6" y="55.4" font-size="14.8" text-anchor="end" textLength="20.8" lengthAdjust="spacingAndGlyphs">5.0</text>
<text x="66.6" y="18.4" font-size="14.8" text-anchor="end" textLength="20.8" lengthAdjust="spacingAndGlyphs">6.0</text>
<text transform="translate(90.0 248) rotate(-90)" font-size="14.8" text-anchor="end" textLength="25.0" lengthAdjust="spacingAndGlyphs">401</text>
<text transform="translate(108.7 248) rotate(-90)" font-size="14.8" text-anchor="end" textLength="25.0" lengthAdjust="spacingAndGlyphs">546</text>
<text transform="translate(127.4 248) rotate(-90)" font-size="14.8" text-anchor="end" textLength="25.0" lengthAdjust="spacingAndGlyphs">690</text>
<text transform="translate(146.0 248) rotate(-90)" font-size="14.8" text-anchor="end" textLength="25.0" lengthAdjust="spacingAndGlyphs">835</text>
<text transform="translate(164.7 248) rotate(-90)" font-size="14.8" text-anchor="end" textLength="25.0" lengthAdjust="spacingAndGlyphs">980</text>
<text transform="translate(183.4 248) rotate(-90)" font-size="14.8" text-anchor="end" textLength="33.2" lengthAdjust="spacingAndGlyphs">1124</text>
<text transform="translate(202.1 248) rotate(-90)" font-size="14.8" text-anchor="end" textLength="33.2" lengthAdjust="spacingAndGlyphs">1269</text>
<text transform="translate(220.8 248) rotate(-90)" font-size="14.8" text-anchor="end" textLength="33.2" lengthAdjust="spacingAndGlyphs">1414</text>
<text transform="translate(239.4 248) rotate(-90)" font-size="14.8" text-anchor="end" textLength="33.2" lengthAdjust="spacingAndGlyphs">1558</text>
<text transform="translate(258.1 248) rotate(-90)" font-size="14.8" text-anchor="end" textLength="33.2" lengthAdjust="spacingAndGlyphs">1703</text>
<text transform="translate(276.8 248) rotate(-90)" font-size="14.8" text-anchor="end" textLength="33.2" lengthAdjust="spacingAndGlyphs">1847</text>
<text transform="translate(295.5 248) rotate(-90)" font-size="14.8" text-anchor="end" textLength="33.2" lengthAdjust="spacingAndGlyphs">1992</text>
<text transform="translate(314.2 248) rotate(-90)" font-size="14.8" text-anchor="end" textLength="33.2" lengthAdjust="spacingAndGlyphs">2137</text>
<text transform="translate(332.8 248) rotate(-90)" font-size="14.8" text-anchor="end" textLength="33.2" lengthAdjust="spacingAndGlyphs">2281</text>
<text transform="translate(351.5 248) rotate(-90)" font-size="14.8" text-anchor="end" textLength="33.2" lengthAdjust="spacingAndGlyphs">2426</text>
<text transform="translate(370.2 248) rotate(-90)" font-size="14.8" text-anchor="end" textLength="33.2" lengthAdjust="spacingAndGlyphs">2571</text>
<text transform="translate(388.9 248) rotate(-90)" font-size="14.8" text-anchor="end" textLength="33.2" lengthAdjust="spacingAndGlyphs">2715</text>
<text transform="translate(407.6 248) rotate(-90)" font-size="14.8" text-anchor="end" textLength="33.2" lengthAdjust="spacingAndGlyphs">2860</text>
<text transform="translate(426.2 248) rotate(-90)" font-size="14.8" text-anchor="end" textLength="33.2" lengthAdjust="spacingAndGlyphs">3005</text>
<text transform="translate(444.9 248) rotate(-90)" font-size="14.8" text-anchor="end" textLength="33.2" lengthAdjust="spacingAndGlyphs">3149</text>
<text transform="translate(463.6 248) rotate(-90)" font-size="14.8" text-anchor="end" textLength="33.2" lengthAdjust="spacingAndGlyphs">3294</text>
<text transform="translate(482.3 248) rotate(-90)" font-size="14.8" text-anchor="end" textLength="33.2" lengthAdjust="spacingAndGlyphs">3438</text>
<text transform="translate(501.0 248) rotate(-90)" font-size="14.8" text-anchor="end" textLength="33.2" lengthAdjust="spacingAndGlyphs">3583</text>
<text transform="translate(519.6 248) rotate(-90)" font-size="14.8" text-anchor="end" textLength="33.2" lengthAdjust="spacingAndGlyphs">3728</text>
<text transform="translate(538.3 248) rotate(-90)" font-size="14.8" text-anchor="end" textLength="33.2" lengthAdjust="spacingAndGlyphs">3872</text>
<text transform="translate(37 186) rotate(-90)" font-size="15.6" textLength="124" lengthAdjust="spacingAndGlyphs">Absorbance (a.u.)</text>
<text x="240.3" y="302.3" font-size="15.6" textLength="125" lengthAdjust="spacingAndGlyphs">Wavenumber (cm</text>
<text x="366.6" y="297.6" font-size="10" textLength="8" lengthAdjust="spacingAndGlyphs">-1</text>
<text x="376.3" y="302.3" font-size="15.6">)</text>
<line x1="274" y1="17.2" x2="306.8" y2="17.2" stroke="#000000" stroke-width="2.3"/>
<text x="310" y="22.2" font-size="15.4" textLength="21.6" lengthAdjust="spacingAndGlyphs">0 h</text>
<line x1="274" y1="45.8" x2="306.8" y2="45.8" stroke="#00b0f0" stroke-width="2.0" stroke-dasharray="1.7 1.7"/>
<text x="310" y="50.8" font-size="15.4" textLength="30.4" lengthAdjust="spacingAndGlyphs">24 h</text>
<line x1="274" y1="74.5" x2="306.8" y2="74.5" stroke="#00b050" stroke-width="2.1" stroke-dasharray="4.6 1.8"/>
<text x="310" y="79.5" font-size="15.4" textLength="30.4" lengthAdjust="spacingAndGlyphs">48 h</text>
<line x1="274" y1="103.1" x2="306.8" y2="103.1" stroke="#ff0000" stroke-width="2.1" stroke-dasharray="7 6"/>
<text x="310" y="108.1" font-size="15.4" textLength="30.4" lengthAdjust="spacingAndGlyphs">72 h</text>
<line x1="274" y1="131.8" x2="306.8" y2="131.8" stroke="#ffc000" stroke-width="2.0" stroke-dasharray="7 5.5 2 5.5"/>
<text x="310" y="136.8" font-size="15.4" textLength="30.4" lengthAdjust="spacingAndGlyphs">96 h</text>
<line x1="274" y1="160.4" x2="306.8" y2="160.4" stroke="#ff0000" stroke-width="2.4" stroke-dasharray="15 5.6"/>
<text x="310" y="165.4" font-size="15.4" textLength="39.2" lengthAdjust="spacingAndGlyphs">120 h</text>
<line x1="274" y1="189.1" x2="306.8" y2="189.1" stroke="#7030b0" stroke-width="2.3" stroke-dasharray="15 5.6 1.7 5.4"/>
<text x="310" y="194.1" font-size="15.4" textLength="39.2" lengthAdjust="spacingAndGlyphs">144 h</text>
<rect x="3.5" y="2.25" width="543.3" height="306.7" fill="none" stroke="#000" stroke-width="1.5"/>
</svg></body></html>
